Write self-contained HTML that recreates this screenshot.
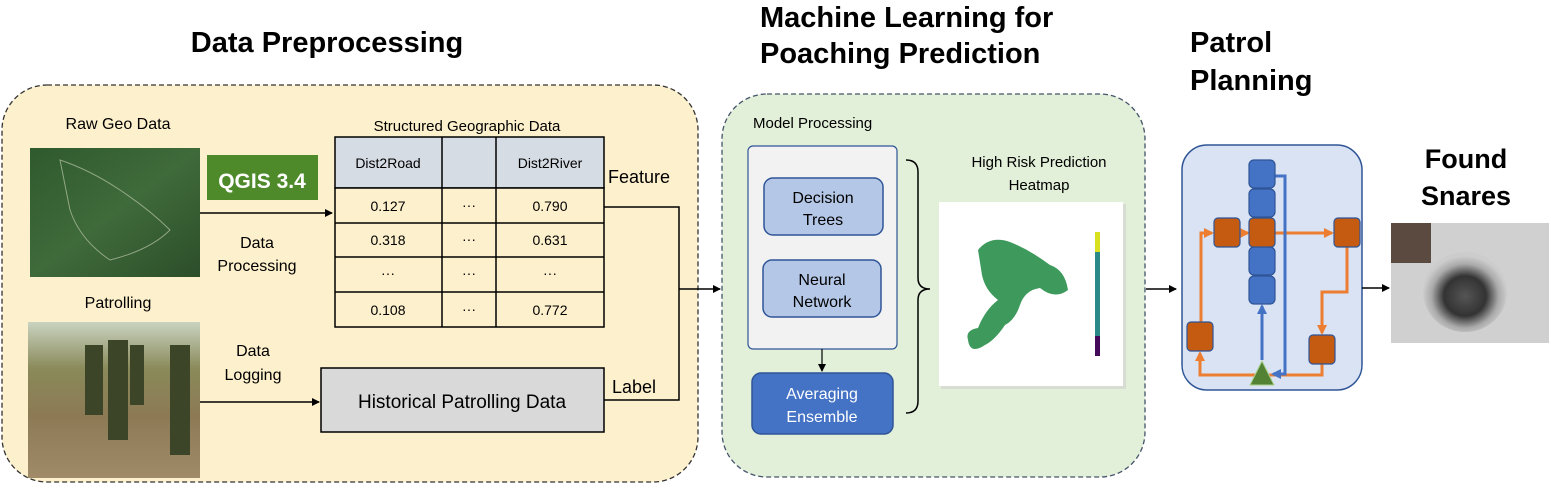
<!DOCTYPE html>
<html><head><meta charset="utf-8"><style>
body{margin:0;background:#fff;}
svg text{font-family:"Liberation Sans",sans-serif;}
</style></head><body>
<svg width="1551" height="486" viewBox="0 0 1551 486" xmlns="http://www.w3.org/2000/svg">
<defs>
<marker id="ar" markerWidth="8" markerHeight="8" refX="7" refY="4" orient="auto" markerUnits="userSpaceOnUse"><path d="M0,0 L8,4 L0,8 z" fill="#000"/></marker>
<marker id="ao" markerWidth="10" markerHeight="10" refX="8" refY="5" orient="auto" markerUnits="userSpaceOnUse"><path d="M0,0 L10,5 L0,10 z" fill="#ed7d31"/></marker>
<marker id="ab" markerWidth="10" markerHeight="10" refX="8" refY="5" orient="auto" markerUnits="userSpaceOnUse"><path d="M0,0 L10,5 L0,10 z" fill="#4472c4"/></marker>
<linearGradient id="map" x1="0" y1="0" x2="1" y2="1"><stop offset="0" stop-color="#2f5a2e"/><stop offset="0.5" stop-color="#3f6a3a"/><stop offset="1" stop-color="#2c4e2a"/></linearGradient>
<linearGradient id="pat" x1="0" y1="0" x2="0" y2="1"><stop offset="0" stop-color="#c9d3c0"/><stop offset="0.3" stop-color="#8a8a5a"/><stop offset="0.6" stop-color="#8c7a55"/><stop offset="1" stop-color="#a08a68"/></linearGradient>
<radialGradient id="snare" cx="0.5" cy="0.55" r="0.5"><stop offset="0" stop-color="#555"/><stop offset="0.5" stop-color="#333"/><stop offset="0.8" stop-color="#aaa"/><stop offset="1" stop-color="#ccc"/></radialGradient>
</defs>

<!-- titles -->
<text x="327" y="52" font-size="29" font-weight="bold" text-anchor="middle">Data Preprocessing</text>
<text x="760" y="27" font-size="29" font-weight="bold">Machine Learning for</text>
<text x="760" y="63" font-size="29" font-weight="bold">Poaching Prediction</text>
<text x="1190" y="52" font-size="29" font-weight="bold">Patrol</text>
<text x="1190" y="90" font-size="29" font-weight="bold">Planning</text>
<text x="1466" y="168" font-size="27" font-weight="bold" text-anchor="middle">Found</text>
<text x="1466" y="205" font-size="27" font-weight="bold" text-anchor="middle">Snares</text>

<!-- yellow box -->
<rect x="2" y="85" width="696" height="397" rx="45" fill="#fdf0cc" stroke="#333" stroke-width="1.3" stroke-dasharray="5,3"/>
<text x="118" y="129" font-size="16" text-anchor="middle">Raw Geo Data</text>
<rect x="30" y="148" width="170" height="129" fill="url(#map)"/>
<path d="M60,160 Q90,170 120,190 T170,230 Q150,250 110,260 Q80,240 70,210 Z" fill="none" stroke="#b8c4a8" stroke-width="1" opacity="0.7"/>
<rect x="207" y="155" width="111" height="45" fill="#4e8a2a"/>
<text x="262" y="188" font-size="21" font-weight="bold" fill="#fff" text-anchor="middle">QGIS 3.4</text>
<line x1="200" y1="213" x2="332" y2="213" stroke="#000" stroke-width="1.5" marker-end="url(#ar)"/>
<text x="257" y="248" font-size="16" text-anchor="middle">Data</text>
<text x="257" y="271" font-size="16" text-anchor="middle">Processing</text>
<text x="118" y="308" font-size="16" text-anchor="middle">Patrolling</text>
<rect x="28" y="322" width="172" height="156" fill="url(#pat)"/>
<g fill="#3d4528"><rect x="85" y="345" width="18" height="70"/><rect x="108" y="340" width="20" height="100"/><rect x="130" y="345" width="14" height="60"/><rect x="170" y="345" width="20" height="110"/></g>

<text x="467" y="131" font-size="15" text-anchor="middle">Structured Geographic Data</text>
<g stroke="#000" stroke-width="1.5">
<rect x="335" y="137" width="269" height="51" fill="#d6dce4"/>
<rect x="335" y="188" width="269" height="139" fill="#fdf0cc"/>
<line x1="335" y1="223" x2="604" y2="223"/><line x1="335" y1="257" x2="604" y2="257"/><line x1="335" y1="292" x2="604" y2="292"/>
<line x1="442" y1="137" x2="442" y2="327"/><line x1="496" y1="137" x2="496" y2="327"/>
</g>
<g font-size="14" text-anchor="middle">
<text x="388" y="168">Dist2Road</text><text x="550" y="168">Dist2River</text>
<text x="388" y="211">0.127</text><text x="469" y="210">···</text><text x="550" y="211">0.790</text>
<text x="388" y="245">0.318</text><text x="469" y="244">···</text><text x="550" y="245">0.631</text>
<text x="388" y="278">···</text><text x="469" y="278">···</text><text x="550" y="278">···</text>
<text x="388" y="315">0.108</text><text x="469" y="314">···</text><text x="550" y="315">0.772</text>
</g>
<text x="608" y="183" font-size="18">Feature</text>
<text x="612" y="393" font-size="18">Label</text>
<polyline points="604,207 679,207 679,400 604,400" fill="none" stroke="#000" stroke-width="1.5"/>
<line x1="679" y1="289" x2="720" y2="289" stroke="#000" stroke-width="1.5" marker-end="url(#ar)"/>
<text x="253" y="356" font-size="16" text-anchor="middle">Data</text>
<text x="253" y="380" font-size="16" text-anchor="middle">Logging</text>
<line x1="200" y1="402" x2="319" y2="402" stroke="#000" stroke-width="1.5" marker-end="url(#ar)"/>
<rect x="321" y="368" width="283" height="64" fill="#d9d9d9" stroke="#000" stroke-width="1.5"/>
<text x="462" y="408" font-size="19" text-anchor="middle">Historical Patrolling Data</text>

<!-- green box -->
<rect x="722" y="94" width="423" height="383" rx="45" fill="#e2efd9" stroke="#44546a" stroke-width="1.3" stroke-dasharray="5,3"/>
<text x="753" y="128" font-size="15">Model Processing</text>
<rect x="748" y="146" width="149" height="203" rx="5" fill="#f2f2f2" stroke="#2f5597" stroke-width="1.2"/>
<rect x="764" y="178" width="119" height="57" rx="9" fill="#b4c7e7" stroke="#2f5597" stroke-width="1.5"/>
<text x="823" y="203" font-size="16" text-anchor="middle">Decision</text>
<text x="823" y="225" font-size="16" text-anchor="middle">Trees</text>
<rect x="763" y="260" width="118" height="57" rx="9" fill="#b4c7e7" stroke="#2f5597" stroke-width="1.5"/>
<text x="822" y="285" font-size="16" text-anchor="middle">Neural</text>
<text x="822" y="307" font-size="16" text-anchor="middle">Network</text>
<line x1="822" y1="349" x2="822" y2="371" stroke="#000" stroke-width="1.2" marker-end="url(#ar)"/>
<rect x="752" y="373" width="141" height="61" rx="9" fill="#4472c4" stroke="#2f5597" stroke-width="1.5"/>
<text x="822" y="399" font-size="16" fill="#fff" text-anchor="middle">Averaging</text>
<text x="822" y="422" font-size="16" fill="#fff" text-anchor="middle">Ensemble</text>
<path d="M906,160 Q918,160 918,172 L918,278 Q918,289 930,289 Q918,289 918,300 L918,401 Q918,413 906,413" fill="none" stroke="#000" stroke-width="1.5"/>
<text x="1039" y="167" font-size="15" text-anchor="middle">High Risk Prediction</text>
<text x="1039" y="190" font-size="15" text-anchor="middle">Heatmap</text>
<rect x="941" y="204" width="185" height="185" fill="#ccc" opacity="0.5"/>
<rect x="939" y="202" width="184" height="184" fill="#fff"/>
<path d="M978,250 Q990,235 1010,242 Q1030,250 1050,265 Q1065,270 1068,290 Q1055,300 1040,288 Q1025,290 1020,305 Q1015,320 1005,325 Q995,340 985,345 Q970,355 968,340 Q965,330 978,328 Q985,310 998,300 Q985,290 982,275 Z" fill="#3e9a5c"/>
<rect x="1095" y="232" width="5" height="124" fill="#2a8a8a"/>
<rect x="1095" y="232" width="5" height="20" fill="#d8e020"/>
<rect x="1095" y="336" width="5" height="20" fill="#440a5a"/>
<line x1="1146" y1="289" x2="1176" y2="289" stroke="#000" stroke-width="1.5" marker-end="url(#ar)"/>

<!-- patrol box -->
<rect x="1182" y="145" width="180" height="245" rx="25" fill="#dae3f3" stroke="#2f5597" stroke-width="1.5"/>
<g stroke="#ed7d31" stroke-width="3" fill="none">
<polyline points="1201,322 1201,233 1212,233" marker-end="url(#ao)"/>
<line x1="1240" y1="233" x2="1248" y2="233" marker-end="url(#ao)"/>
<line x1="1275" y1="233" x2="1332" y2="233" marker-end="url(#ao)"/>
<polyline points="1347,247 1347,292 1322,292 1322,333" marker-end="url(#ao)"/>
<polyline points="1322,363 1322,375 1200,375 1200,353" marker-end="url(#ao)"/>
</g>
<g stroke="#4472c4" stroke-width="3" fill="none">
<line x1="1262" y1="360" x2="1262" y2="306" marker-end="url(#ab)"/>
<polyline points="1275,176 1285,176 1285,374 1273,374" marker-end="url(#ab)"/>
</g>
<g fill="#4472c4" stroke="#2f5597" stroke-width="1.2">
<rect x="1249" y="160" width="26" height="28" rx="5"/><rect x="1249" y="189" width="26" height="28" rx="5"/>
<rect x="1249" y="247" width="26" height="28" rx="5"/><rect x="1249" y="276" width="26" height="28" rx="5"/>
</g>
<g fill="#c55a11" stroke="#2f5597" stroke-width="1.2">
<rect x="1214" y="218" width="26" height="29" rx="4"/><rect x="1249" y="218" width="26" height="29" rx="4"/>
<rect x="1334" y="218" width="26" height="29" rx="4"/><rect x="1187" y="322" width="26" height="29" rx="4"/>
<rect x="1309" y="335" width="26" height="29" rx="4"/>
</g>
<polygon points="1262,361 1250,385 1274,385" fill="#548235" stroke="#a9d18e" stroke-width="1"/>
<line x1="1362" y1="288" x2="1389" y2="288" stroke="#000" stroke-width="1.5" marker-end="url(#ar)"/>
<rect x="1391" y="223" width="158" height="120" fill="#d0d0d0"/>
<rect x="1391" y="223" width="40" height="40" fill="#5a4a40"/>
<ellipse cx="1465" cy="292" rx="42" ry="40" fill="url(#snare)"/>
</svg>
</body></html>
